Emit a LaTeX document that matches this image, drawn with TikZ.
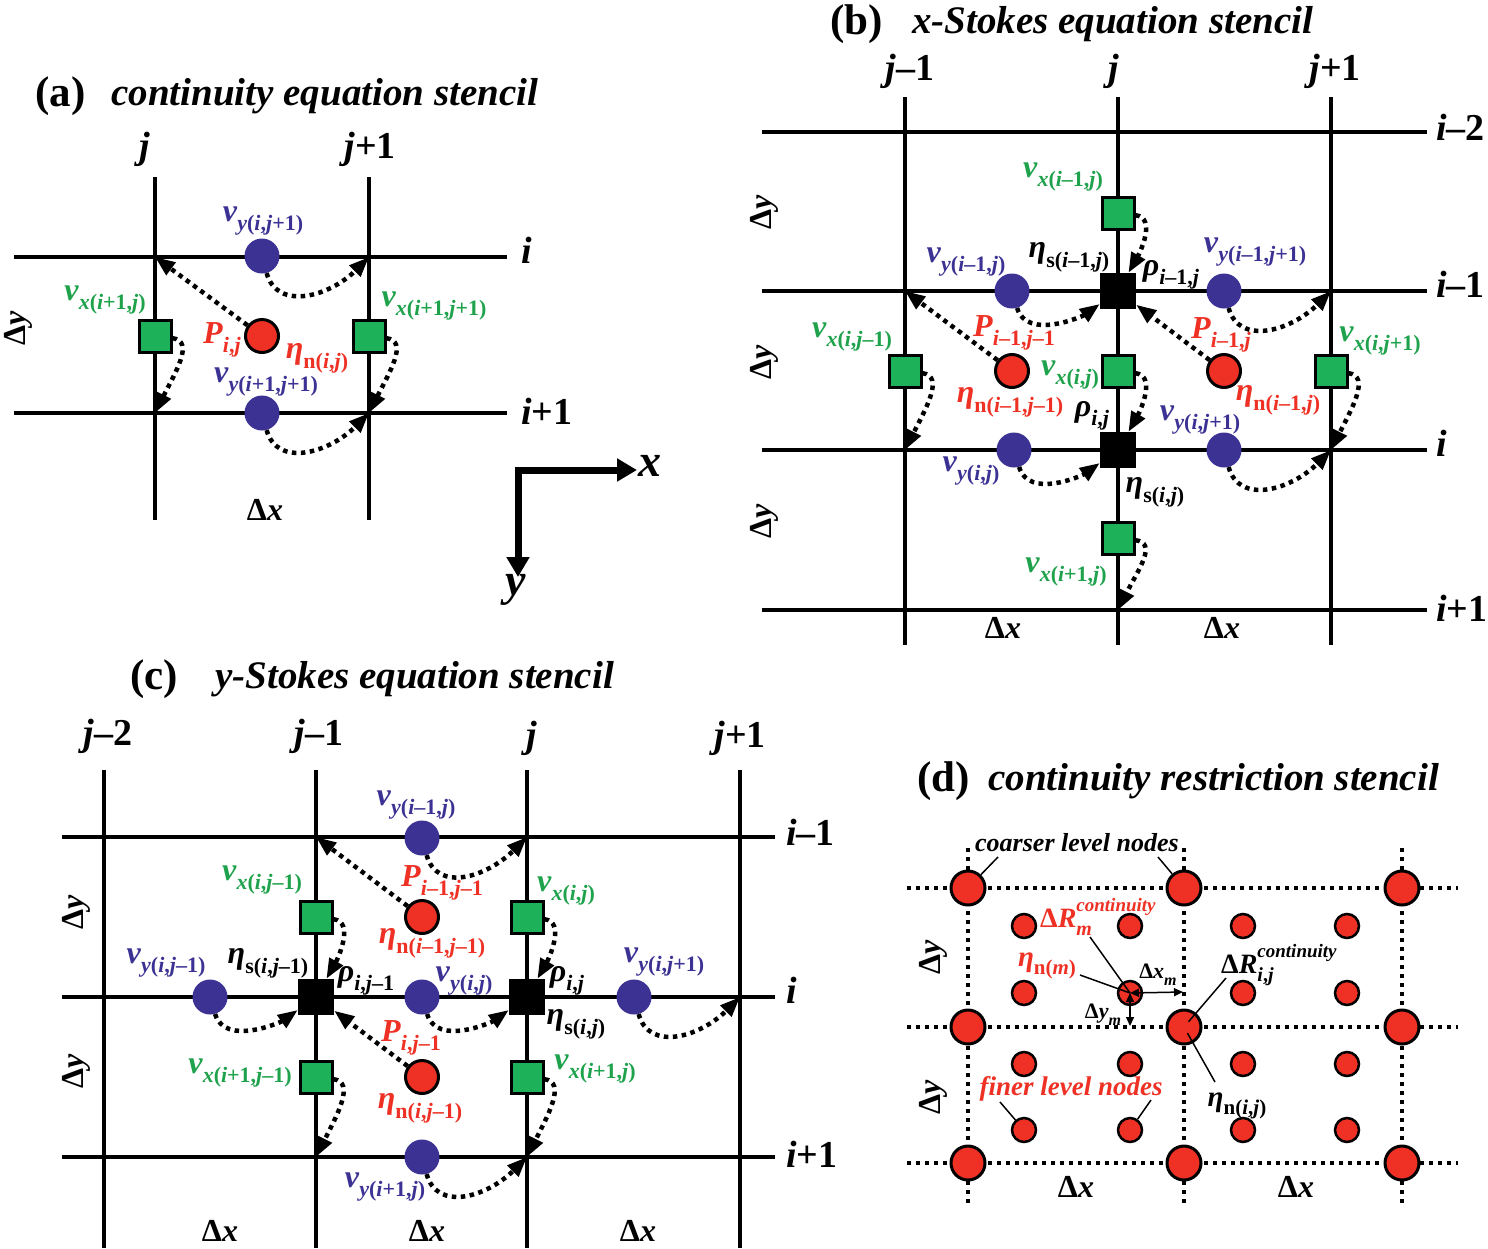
\documentclass[tikz,border=0pt]{standalone}
\usepackage{fontspec}
\IfFontExistsTF{LiberationSerif-Regular.ttf}{%
 \setmainfont{LiberationSerif}[Extension=.ttf,UprightFont=*-Regular,BoldFont=*-Bold,ItalicFont=*-Italic,BoldItalicFont=*-BoldItalic]}{%
 \setmainfont{Liberation Serif}}
\usetikzlibrary{arrows.meta}
\definecolor{myred}{HTML}{EE3124}
\definecolor{myblue}{HTML}{3B3294}
\definecolor{mygreen}{HTML}{1DB15A}
\definecolor{gtext}{HTML}{1FA24C}
\newcommand\I[1]{\textit{#1}}
\newcommand\Ii{\textit{i}}
\newcommand\Jj{\textit{j}}
\newcommand\Sb[1]{\raisebox{-0.3em}{\fontsize{22}{22}\selectfont #1}}
\newcommand\Vy[1]{\I{v}\Sb{\I{y}(#1)}}
\newcommand\Vx[1]{\I{v}\Sb{\I{x}(#1)}}
\newcommand\Pn[1]{\I{P}\Sb{#1}}
\newcommand\En[1]{\I{η}\Sb{n(#1)}}
\newcommand\Es[1]{\I{η}\Sb{s(#1)}}
\newcommand\Rh[1]{\I{ρ}\Sb{#1}}
\newcommand\Dx{Δ\I{x}}
\newcommand\Dy{Δ\I{y}}
\tikzset{
 gline/.style={line width=3.5pt},
 darr/.style={line width=4.5pt,dash pattern=on 4.5pt off 4.5pt,-{Triangle[length=20pt,width=15pt]}},
 bluedot/.style={circle,fill=myblue,minimum size=35pt,inner sep=0pt},
 reddot/.style={circle,fill=myred,draw=black,line width=3pt,minimum size=33pt,inner sep=0pt},
 greensq/.style={rectangle,fill=mygreen,draw=black,line width=3pt,minimum size=32pt,inner sep=0pt},
 blacksq/.style={rectangle,fill=black,minimum size=36pt,inner sep=0pt},
 lb/.style={inner sep=0pt,font=\fontsize{32}{32}\selectfont\bfseries},
 lbb/.style={lb,text=myblue},
 lbg/.style={lb,text=gtext},
 lbr/.style={lb,text=myred},
 idx/.style={inner sep=0pt,font=\fontsize{38}{38}\selectfont\bfseries},
 ttl/.style={inner sep=0pt,font=\fontsize{39}{39}\selectfont\bfseries,anchor=base west},
 ttlp/.style={inner sep=0pt,font=\fontsize{43}{43}\selectfont\bfseries,anchor=base west},
 dl/.style={inner sep=0pt,font=\fontsize{32}{32}\selectfont\bfseries},
 dotl/.style={line width=4pt,dash pattern=on 4pt off 5pt},
 bigc/.style={circle,fill=myred,draw=black,line width=3pt,minimum size=34pt,inner sep=0pt},
 smc/.style={circle,fill=myred,draw=black,line width=2.5pt,minimum size=24pt,inner sep=0pt},
 leader/.style={line width=1.5pt},
 smarr/.style={line width=1.5pt,{Triangle[length=9pt,width=8pt]}-{Triangle[length=9pt,width=8pt]}},
}
\begin{document}
\begin{tikzpicture}[x=1pt,y=-1pt]
\useasboundingbox (0,0) rectangle (1488,1248);

% ================= Panel (a)
\node[ttlp] (ta1) at (35,106) {(a)};
\node[ttl] (ta2) at (111,105) {\I{continuity equation stencil}};
\draw[gline] (155,177) -- (155,520);
\draw[gline] (369,177) -- (369,520);
\draw[gline] (14,257) -- (507,257);
\draw[gline] (14,413) -- (507,413);
\coordinate (a11) at (155,257); \coordinate (a12) at (369,257);
\coordinate (a21) at (155,413); \coordinate (a22) at (369,413);
\node[idx,anchor=base] (aj1) at (145,158) {\I{j}};
\node[idx,anchor=base] (aj2) at (370,158) {\I{j}+1};
\node[idx,anchor=base west] (ai1) at (521,263) {\I{i}};
\node[idx,anchor=base west] (ai2) at (521,424) {\I{i}+1};
\node[bluedot] (aVy1) at (262,256) {};
\node[bluedot] (aVy2) at (262,413) {};
\node[reddot] (aP) at (262,336) {};
\node[greensq] (aVx1) at (155,336) {};
\node[greensq] (aVx2) at (369,336) {};
\draw[darr] (aP) -- (a11);
\draw[darr] (aVy1) .. controls +(15,55) and +(-40,40) .. (a12);
\draw[darr] (aVx1) .. controls +(40,5) and +(20,-40) .. (a21);
\draw[darr] (aVx2) .. controls +(40,5) and +(20,-40) .. (a22);
\draw[darr] (aVy2) .. controls +(15,55) and +(-40,40) .. (a22);
\node[lbb] (al1) at (263,221) {\Vy{\Ii,\Jj+1}};
\node[lbg] (al2) at (105,300) {\Vx{\Ii+1,\Jj}};
\node[lbg] (al3) at (434,306) {\Vx{\Ii+1,\Jj+1}};
\node[lbr] (al4) at (222,340) {\Pn{\Ii,\Jj}};
\node[lbr] (al5) at (317,358) {\En{\Ii,\Jj}};
\node[lbb] (al6) at (266,382) {\Vy{\Ii+1,\Jj+1}};
\node[dl,rotate=90] (al7) at (18,328) {\Dy};
\node[dl] (al8) at (265,510) {\Dx};
% axes
\coordinate (ax0) at (518,470); \coordinate (axx) at (637,470); \coordinate (axy) at (518,577);
\draw[line width=7pt,{Triangle[length=20pt,width=22pt]}-{Triangle[length=20pt,width=22pt]}] (axy) -- (ax0) -- (axx);
\node[inner sep=0pt,font=\fontsize{46}{46}\selectfont\bfseries\itshape] (axlx) at (650,466) {x};
\node[inner sep=0pt,font=\fontsize{46}{46}\selectfont\bfseries\itshape] (axly) at (516,590) {y};

% ================= Panel (b)
\node[ttlp] (tb1) at (830,34) {(b)};
\node[ttl] (tb2) at (912,33) {\I{x-Stokes equation stencil}};
\foreach \xx in {905,1118,1331} \draw[gline] (\xx,97) -- (\xx,645);
\foreach \yy in {132,291,450,610} \draw[gline] (762,\yy) -- (1427,\yy);
\coordinate (b11) at (905,291); \coordinate (b13) at (1331,291);
\coordinate (b21) at (905,450); \coordinate (b23) at (1331,450);
\coordinate (b32) at (1118,610);
\node[idx,anchor=base] (bj1) at (910,80) {\I{j}–1};
\node[idx,anchor=base] (bj2) at (1114,80) {\I{j}};
\node[idx,anchor=base] (bj3) at (1335,80) {\I{j}+1};
\node[idx,anchor=base west] (bi1) at (1436,140) {\I{i}–2};
\node[idx,anchor=base west] (bi2) at (1436,297) {\I{i}–1};
\node[idx,anchor=base west] (bi3) at (1436,456) {\I{i}};
\node[idx,anchor=base west] (bi4) at (1436,621) {\I{i}+1};
\node[greensq] (bVx1) at (1118,213) {};
\node[bluedot] (bVy1) at (1012,291) {};
\node[blacksq] (bK1) at (1118,291) {};
\node[bluedot] (bVy2) at (1224,291) {};
\node[greensq] (bVx2) at (905,371) {};
\node[reddot] (bP1) at (1012,371) {};
\node[greensq] (bVx3) at (1118,371) {};
\node[reddot] (bP2) at (1224,371) {};
\node[greensq] (bVx4) at (1331,371) {};
\node[bluedot] (bVy3) at (1014,450) {};
\node[blacksq] (bK2) at (1118,450) {};
\node[bluedot] (bVy4) at (1224,450) {};
\node[greensq] (bVx5) at (1118,538) {};
\draw[darr] (bVx1) .. controls +(40,5) and +(20,-35) .. (bK1);
\draw[darr] (bVy1) .. controls +(15,50) and +(-35,25) .. (bK1);
\draw[darr] (bP1) -- (b11);
\draw[darr] (bP2) -- (bK1);
\draw[darr] (bVy2) .. controls +(15,55) and +(-40,40) .. (b13);
\draw[darr] (bVx2) .. controls +(40,5) and +(20,-40) .. (b21);
\draw[darr] (bVx3) .. controls +(40,5) and +(20,-35) .. (bK2);
\draw[darr] (bVx4) .. controls +(40,5) and +(20,-40) .. (b23);
\draw[darr] (bVy3) .. controls +(15,50) and +(-35,25) .. (bK2);
\draw[darr] (bVy4) .. controls +(15,55) and +(-40,40) .. (b23);
\draw[darr] (bVx5) .. controls +(40,5) and +(20,-40) .. (b32);
\node[lbg] (bl1) at (1063,177) {\Vx{\Ii–1,\Jj}};
\node[lb] (bl2) at (1069,257) {\Es{\Ii–1,\Jj}};
\node[lb] (bl3) at (1171,275) {\Rh{\Ii–1,\Jj}};
\node[lbb] (bl4) at (966,262) {\Vy{\Ii–1,\Jj}};
\node[lbb] (bl5) at (1255,252) {\Vy{\Ii–1,\Jj+1}};
\node[lbg] (bl6) at (852,337) {\Vx{\Ii,\Jj–1}};
\node[lbr] (bl7) at (1014,333) {\Pn{\Ii–1,\Jj–1}};
\node[lbg] (bl8) at (1070,375) {\Vx{\Ii,\Jj}};
\node[lbr] (bl9) at (1010,402) {\En{\Ii–1,\Jj–1}};
\node[lb] (bl10) at (1092,416) {\Rh{\Ii,\Jj}};
\node[lbb] (bl11) at (1200,420) {\Vy{\Ii,\Jj+1}};
\node[lbr] (bl12) at (1221,335) {\Pn{\Ii–1,\Jj}};
\node[lbr] (bl13) at (1278,400) {\En{\Ii–1,\Jj}};
\node[lbg] (bl14) at (1380,341) {\Vx{\Ii,\Jj+1}};
\node[lbb] (bl15) at (971,471) {\Vy{\Ii,\Jj}};
\node[lb] (bl16) at (1155,492) {\Es{\Ii,\Jj}};
\node[lbg] (bl17) at (1066,572) {\Vx{\Ii+1,\Jj}};
\node[dl,rotate=90] (bl18) at (764,212) {\Dy};
\node[dl,rotate=90] (bl19) at (764,362) {\Dy};
\node[dl,rotate=90] (bl20) at (764,521) {\Dy};
\node[dl] (bl21) at (1003,628) {\Dx};
\node[dl] (bl22) at (1222,628) {\Dx};

% ================= Panel (c)
\node[ttlp] (tc1) at (130,689) {(c)};
\node[ttl] (tc2) at (215,688) {\I{y-Stokes equation stencil}};
\foreach \xx in {104,316,527,740} \draw[gline] (\xx,770) -- (\xx,1248);
\foreach \yy in {837,997,1157} \draw[gline] (62,\yy) -- (775,\yy);
\coordinate (c12) at (316,837); \coordinate (c13) at (527,837);
\coordinate (c24) at (740,997);
\coordinate (c32) at (316,1157); \coordinate (c33) at (527,1157);
\node[idx,anchor=base] (cj1) at (108,745) {\I{j}–2};
\node[idx,anchor=base] (cj2) at (319,745) {\I{j}–1};
\node[idx,anchor=base] (cj3) at (532,747) {\I{j}};
\node[idx,anchor=base] (cj4) at (740,747) {\I{j}+1};
\node[idx,anchor=base west] (ci1) at (786,845) {\I{i}–1};
\node[idx,anchor=base west] (ci2) at (786,1003) {\I{i}};
\node[idx,anchor=base west] (ci3) at (786,1167) {\I{i}+1};
\node[bluedot] (cVy1) at (422,838) {};
\node[reddot] (cP1) at (422,917) {};
\node[greensq] (cVx1) at (316,917) {};
\node[greensq] (cVx2) at (527,917) {};
\node[bluedot] (cVy2) at (210,997) {};
\node[blacksq] (cK1) at (316,997) {};
\node[bluedot] (cVy3) at (422,997) {};
\node[blacksq] (cK2) at (527,997) {};
\node[bluedot] (cVy4) at (634,997) {};
\node[greensq] (cVx3) at (316,1077) {};
\node[reddot] (cP2) at (422,1077) {};
\node[greensq] (cVx4) at (527,1077) {};
\node[bluedot] (cVy5) at (422,1157) {};
\draw[darr] (cVy1) .. controls +(15,55) and +(-40,40) .. (c13);
\draw[darr] (cP1) -- (c12);
\draw[darr] (cVx1) .. controls +(40,5) and +(20,-35) .. (cK1);
\draw[darr] (cVx2) .. controls +(40,5) and +(20,-35) .. (cK2);
\draw[darr] (cVy2) .. controls +(15,50) and +(-35,25) .. (cK1);
\draw[darr] (cVy3) .. controls +(15,50) and +(-35,25) .. (cK2);
\draw[darr] (cP2) -- (cK1);
\draw[darr] (cVy4) .. controls +(15,55) and +(-40,40) .. (c24);
\draw[darr] (cVx3) .. controls +(40,5) and +(20,-40) .. (c32);
\draw[darr] (cVx4) .. controls +(40,5) and +(20,-40) .. (c33);
\draw[darr] (cVy5) .. controls +(15,55) and +(-40,40) .. (c33);
\node[lbb] (cl1) at (416,805) {\Vy{\Ii–1,\Jj}};
\node[lbg] (cl2) at (262,880) {\Vx{\Ii,\Jj–1}};
\node[lbr] (cl3) at (442,883) {\Pn{\Ii–1,\Jj–1}};
\node[lbg] (cl4) at (566,891) {\Vx{\Ii,\Jj}};
\node[lbr] (cl5) at (432,943) {\En{\Ii–1,\Jj–1}};
\node[lbb] (cl6) at (166,963) {\Vy{\Ii,\Jj–1}};
\node[lb] (cl7) at (268,963) {\Es{\Ii,\Jj–1}};
\node[lb] (cl8) at (366,981) {\Rh{\Ii,\Jj–1}};
\node[lbb] (cl9) at (464,981) {\Vy{\Ii,\Jj}};
\node[lb] (cl10) at (567,981) {\Rh{\Ii,\Jj}};
\node[lbb] (cl11) at (664,962) {\Vy{\Ii,\Jj+1}};
\node[lb] (cl12) at (576,1024) {\Es{\Ii,\Jj}};
\node[lbr] (cl13) at (411,1038) {\Pn{\Ii,\Jj–1}};
\node[lbg] (cl14) at (240,1073) {\Vx{\Ii+1,\Jj–1}};
\node[lbg] (cl15) at (595,1069) {\Vx{\Ii+1,\Jj}};
\node[lbr] (cl16) at (420,1108) {\En{\Ii,\Jj–1}};
\node[lbb] (cl17) at (385,1187) {\Vy{\Ii+1,\Jj}};
\node[dl,rotate=90] (cl18) at (76,912) {\Dy};
\node[dl,rotate=90] (cl19) at (76,1071) {\Dy};
\node[dl] (cl20) at (220,1231) {\Dx};
\node[dl] (cl21) at (427,1231) {\Dx};
\node[dl] (cl22) at (638,1231) {\Dx};

% ================= Panel (d)
\node[ttlp] (td1) at (917,791) {(d)};
\node[ttl] (td2) at (988,790) {\I{continuity restriction stencil}};
\foreach \yy in {888,1027,1163} \draw[dotl] (907,\yy) -- (1458,\yy);
\foreach \xx in {968,1184,1402} \draw[dotl] (\xx,848) -- (\xx,1204);
\foreach \xx [count=\ci] in {968,1184,1402}
  \foreach \yy [count=\ri] in {888,1027,1163}
    \node[bigc] (C\ri\ci) at (\xx,\yy) {};
\foreach \xx [count=\ci] in {1024,1130,1243,1347}
  \foreach \yy [count=\ri] in {926,993,1064,1130}
    \node[smc] (f\ri\ci) at (\xx,\yy) {};
\node[inner sep=0pt,font=\fontsize{26}{26}\selectfont\bfseries\itshape] (dcl) at (1077,843) {coarser level nodes};
\node[inner sep=0pt,text=myred,font=\fontsize{27}{27}\selectfont\bfseries\itshape] (dfl) at (1071,1089) {finer level nodes};
\node[inner sep=0pt,text=myred,anchor=base west,font=\fontsize{28}{28}\selectfont\bfseries] (dR1) at (1040,927) {Δ\I{R}\makebox[0pt][l]{\raisebox{0.55em}{\fontsize{19}{19}\selectfont\I{continuity}}}\raisebox{-0.3em}{\fontsize{20}{20}\selectfont\I{m}}};
\node[inner sep=0pt,text=myred,font=\fontsize{29}{29}\selectfont\bfseries] (dEm) at (1047,966) {\I{η}\raisebox{-0.3em}{\fontsize{21}{21}\selectfont n(\I{m})}};
\node[inner sep=0pt,font=\fontsize{22}{22}\selectfont\bfseries] (dxm) at (1158,975) {Δ\I{x}\raisebox{-0.3em}{\fontsize{16}{16}\selectfont\I{m}}};
\node[inner sep=0pt,font=\fontsize{22}{22}\selectfont\bfseries] (dym) at (1103,1015) {Δ\I{y}\raisebox{-0.3em}{\fontsize{16}{16}\selectfont\I{m}}};
\node[inner sep=0pt,anchor=base west,font=\fontsize{28}{28}\selectfont\bfseries] (dR2) at (1221,973) {Δ\I{R}\makebox[0pt][l]{\raisebox{0.55em}{\fontsize{19}{19}\selectfont\I{continuity}}}\raisebox{-0.3em}{\fontsize{20}{20}\selectfont\I{i},\I{j}}};
\node[inner sep=0pt,font=\fontsize{29}{29}\selectfont\bfseries] (dEij) at (1237,1106) {\I{η}\raisebox{-0.3em}{\fontsize{21}{21}\selectfont n(\I{i},\I{j})}};
\node[dl,rotate=90] (dl1) at (933,957) {\Dy};
\node[dl,rotate=90] (dl2) at (933,1097) {\Dy};
\node[dl] (dl3) at (1076,1187) {\Dx};
\node[dl] (dl4) at (1296,1187) {\Dx};
\coordinate (lc1) at (998,857); \draw[leader] (lc1) -- (C11);
\coordinate (lc2) at (1158,857); \draw[leader] (lc2) -- (C12);
\coordinate (lr1) at (1090,937); \draw[leader] (lr1) -- (f22.center);
\coordinate (le1) at (1080,975); \draw[leader] (le1) -- (f22.center);
\coordinate (lr2) at (1226,978); \draw[leader,shorten >=7pt] (lr2) -- (C22.center);
\coordinate (le2) at (1215,1082); \draw[leader,shorten >=7pt] (le2) -- (C22.center);
\coordinate (lf1) at (1000,1102); \draw[leader] (lf1) -- (f41);
\coordinate (lf2) at (1151,1100); \draw[leader] (lf2) -- (f42);
\coordinate (dxe) at (1183,992); \draw[smarr] (f22.center) -- (dxe);
\coordinate (dye) at (1130,1026); \draw[smarr] (f22.center) -- (dye);
\end{tikzpicture}
\end{document}
